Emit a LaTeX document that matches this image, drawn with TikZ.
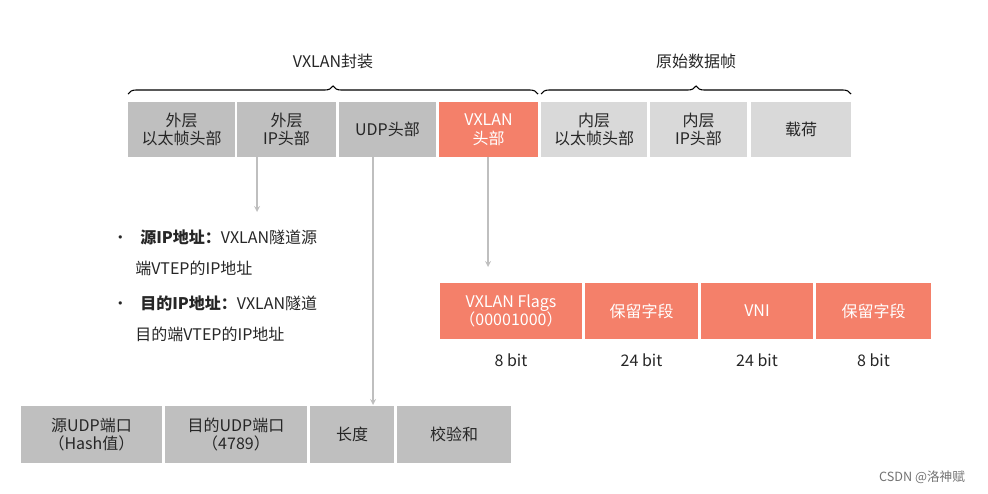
\documentclass[tikz,border=0pt]{standalone}
\usepackage{fontspec}
\setmainfont{Noto Sans CJK SC}
\usetikzlibrary{decorations.pathreplacing}
\definecolor{dg}{HTML}{BFBFBF}
\definecolor{lg}{HTML}{D9D9D9}
\definecolor{og}{HTML}{F4806A}
\definecolor{ar}{HTML}{BFBFBF}
\begin{document}
\begin{tikzpicture}[x=0.75pt,y=-0.75pt,font=\fontsize{12}{14}\selectfont,
 bx/.style={draw=none,inner sep=0,align=center,text=black!85},
 arr/.style={draw=ar,line width=1pt,-stealth},
 br/.style={decorate,decoration={brace,amplitude=6pt},line width=0.8pt}]
\useasboundingbox (0,0) rectangle (988,493);
\def\bx#1#2#3#4#5#6#7{\fill[#6] (#2,#3) rectangle (#4,#5); \node[bx,#7] (#1) at ({(#2+#4)/2},{(#3+#5)/2}) {};}
\newcommand\boxn[7]{\fill[#6] (#2,#3) rectangle (#4,#5); \node[bx,#7] (#1) at ({(#2+#4)/2},{(#3+#5)/2}) {#1x};}
% top row
\fill[dg] (128,102) rectangle (235,157); \node[bx] (a1) at (181.5,129.5) {外层\\以太帧头部};
\fill[dg] (237,102) rectangle (336,157); \node[bx] (a2) at (286.5,129.5) {外层\\IP头部};
\fill[dg] (339,102) rectangle (436,157); \node[bx] (a3) at (387.5,129.5) {UDP头部};
\fill[og] (439,102) rectangle (538,157); \node[bx,text=white] (a4) at (488.5,129.5) {VXLAN\\头部};
\fill[lg] (541,102) rectangle (647,157); \node[bx] (a5) at (594,129.5) {内层\\以太帧头部};
\fill[lg] (650,102) rectangle (747,157); \node[bx] (a6) at (698.5,129.5) {内层\\IP头部};
\fill[lg] (751,102) rectangle (851,157); \node[bx] (a7) at (801,129.5) {载荷};
\draw[br] (128,94) -- (538,94);
\draw[br] (541,94) -- (851,94);
\node[bx] (t1) at (333,61) {VXLAN封装};
\node[bx] (t2) at (696,61) {原始数据帧};
% arrows
\coordinate (s1) at (257,157); \coordinate (e1) at (257,212);
\coordinate (s2) at (373,157); \coordinate (e2) at (373,405);
\coordinate (s3) at (488,157); \coordinate (e3) at (488,267);
\draw[arr] (s1) -- (e1);
\draw[arr] (s2) -- (e2);
\draw[arr] (s3) -- (e3);
% bullets
\node[bx,anchor=west] (b1) at (112,237) {•\hspace{9pt}\textbf{源IP地址：}VXLAN隧道源};
\node[bx,anchor=west] (b1b) at (135,268) {端VTEP的IP地址};
\node[bx,anchor=west] (b2) at (112,303) {•\hspace{9pt}\textbf{目的IP地址：}VXLAN隧道};
\node[bx,anchor=west] (b2b) at (135,334) {目的端VTEP的IP地址};
% vxlan header
\fill[og] (440,283) rectangle (582,339); \node[bx,text=white] (v1) at (511,311) {VXLAN Flags\\（00001000）};
\fill[og] (585,283) rectangle (698,339); \node[bx,text=white] (v2) at (641.5,311) {保留字段};
\fill[og] (701,283) rectangle (813,339); \node[bx,text=white] (v3) at (757,311) {VNI};
\fill[og] (816,283) rectangle (931,339); \node[bx,text=white] (v4) at (873.5,311) {保留字段};
\node[bx] (l1) at (511,360) {8 bit};
\node[bx] (l2) at (641.5,360) {24 bit};
\node[bx] (l3) at (757,360) {24 bit};
\node[bx] (l4) at (873.5,360) {8 bit};
% udp header
\fill[dg] (21,406) rectangle (162,463); \node[bx] (u1) at (91.5,434.5) {源UDP端口\\（Hash值）};
\fill[dg] (165,406) rectangle (307,463); \node[bx] (u2) at (236,434.5) {目的UDP端口\\（4789）};
\fill[dg] (310,406) rectangle (394,463); \node[bx] (u3) at (352,434.5) {长度};
\fill[dg] (397,406) rectangle (511,463); \node[bx] (u4) at (454,434.5) {校验和};
\node[bx,text=black!55,font=\fontsize{9.5}{11}\selectfont] (cs) at (922,477) {CSDN @洛神赋};
\end{tikzpicture}
\end{document}
